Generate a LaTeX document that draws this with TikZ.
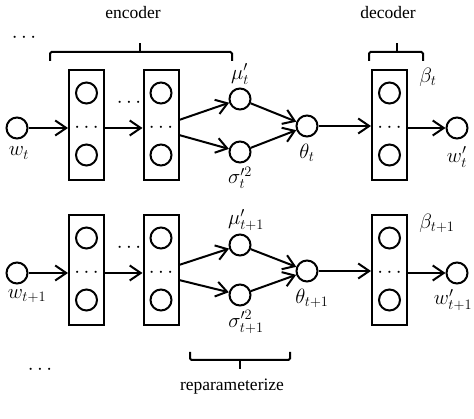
\documentclass[tikz,border=0pt]{standalone}
\usepackage{fontspec}
\setmainfont{Liberation Serif}
\DeclareMathSizes{20}{20}{15.5}{12}
\usetikzlibrary{arrows.meta,calc}
\begin{document}
\begin{tikzpicture}[x=1pt,y=-1pt,
  font=\fontsize{17.5}{20}\selectfont,
  line width=2pt,
  neuron/.style={circle,draw,minimum size=21pt,inner sep=0pt},
  layer/.style={rectangle,draw,minimum width=35pt,minimum height=110pt,inner sep=0pt},
  conn/.style={-{Straight Barb[length=11pt,width=15pt,line width=2pt]}},
  lbl/.style={inner sep=0pt,font=\fontsize{20}{23}\selectfont},
  brace/.style={line width=2pt,rounded corners=1.5pt}]
\useasboundingbox (0,0) rectangle (474,419);

% ---------- top row ----------
\node[neuron] (w1) at (17,128) {};
\node[lbl] (w1l) at (19,153) {$w_t$};
\node[layer] (a1) at (86.5,125) {};
\node[neuron] (a1t) at (86.5,93) {};
\node[neuron] (a1b) at (86.5,155) {};
\node[lbl] (a1d) at (86.5,128) {$\cdots$};
\node[lbl] (d1) at (129,103) {$\cdots$};
\node[layer] (b1) at (161,125) {};
\node[neuron] (b1t) at (161,93) {};
\node[neuron] (b1b) at (161,155) {};
\node[lbl] (b1d) at (161,128) {$\cdots$};
\node[neuron] (m1) at (240,99) {};
\node[lbl] (m1l) at (240,74) {$\mu'_t$};
\node[neuron] (s1) at (240,152) {};
\node[lbl] (s1l) at (240,178) {$\sigma'^2_t$};
\node[neuron] (th1) at (307,126) {};
\node[lbl] (th1l) at (307,153) {$\theta_t$};
\node[layer] (c1) at (389.5,125) {};
\node[neuron] (c1t) at (389.5,93) {};
\node[neuron] (c1b) at (389.5,155) {};
\node[lbl] (c1d) at (389.5,128) {$\cdots$};
\node[lbl] (be1) at (428,77) {$\beta_t$};
\node[neuron] (o1) at (457,128) {};
\node[lbl] (o1l) at (457,157) {$w'_t$};

\coordinate (b1u) at (179,120);
\coordinate (b1l) at (179,135);
\draw[conn] (w1) -- (w1 -| a1.west);
\draw[conn] (a1.east |- w1) -- (b1.west |- w1);
\draw[conn] (b1u) -- (m1);
\draw[conn] (b1l) -- (s1);
\draw[conn] (m1) -- (th1);
\draw[conn] (s1) -- (th1);
\draw[conn] (th1) -- (th1 -| c1.west);
\draw[conn] (c1.east |- o1) -- (o1);

\draw[brace] (50,61) -- (50,52) -- (232,52) -- (232,61);
\draw (140,52) -- (140,43);
\draw[brace] (369,61) -- (369,52) -- (423,52) -- (423,61);
\draw (397,52) -- (397,43);
\node (enc) at (133,13) {encoder};
\node (dec) at (388,13) {decoder};
\node[lbl] (dots1) at (24,38) {$\cdots$};

% ---------- bottom row ----------
\node[neuron] (w2) at (17,273) {};
\node[lbl] (w2l) at (27,296) {$w_{t+1}$};
\node[layer] (a2) at (86.5,270) {};
\node[neuron] (a2t) at (86.5,238) {};
\node[neuron] (a2b) at (86.5,300) {};
\node[lbl] (a2d) at (86.5,273) {$\cdots$};
\node[lbl] (d2) at (129,248) {$\cdots$};
\node[layer] (b2) at (161,270) {};
\node[neuron] (b2t) at (161,238) {};
\node[neuron] (b2b) at (161,300) {};
\node[lbl] (b2d) at (161,273) {$\cdots$};
\node[neuron] (m2) at (240,245) {};
\node[lbl] (m2l) at (246,220) {$\mu'_{t+1}$};
\node[neuron] (s2) at (240,295) {};
\node[lbl] (s2l) at (246,322) {$\sigma'^2_{t+1}$};
\node[neuron] (th2) at (307,271) {};
\node[lbl] (th2l) at (312,298) {$\theta_{t+1}$};
\node[layer] (c2) at (389.5,270) {};
\node[neuron] (c2t) at (389.5,238) {};
\node[neuron] (c2b) at (389.5,300) {};
\node[lbl] (c2d) at (389.5,273) {$\cdots$};
\node[lbl] (be2) at (437,223) {$\beta_{t+1}$};
\node[neuron] (o2) at (457,273) {};
\node[lbl] (o2l) at (453,300) {$w'_{t+1}$};

\coordinate (b2u) at (179,265);
\coordinate (b2l) at (179,280);
\draw[conn] (w2) -- (w2 -| a2.west);
\draw[conn] (a2.east |- w2) -- (b2.west |- w2);
\draw[conn] (b2u) -- (m2);
\draw[conn] (b2l) -- (s2);
\draw[conn] (m2) -- (th2);
\draw[conn] (s2) -- (th2);
\draw[conn] (th2) -- (th2 -| c2.west);
\draw[conn] (c2.east |- o2) -- (o2);

\draw[brace] (190,352) -- (190,360) -- (290,360) -- (290,352);
\draw (240,360) -- (240,369);
\node (rep) at (232,387) {reparameterize};
\node[lbl] (dots2) at (40,370) {$\cdots$};
\end{tikzpicture}
\end{document}
